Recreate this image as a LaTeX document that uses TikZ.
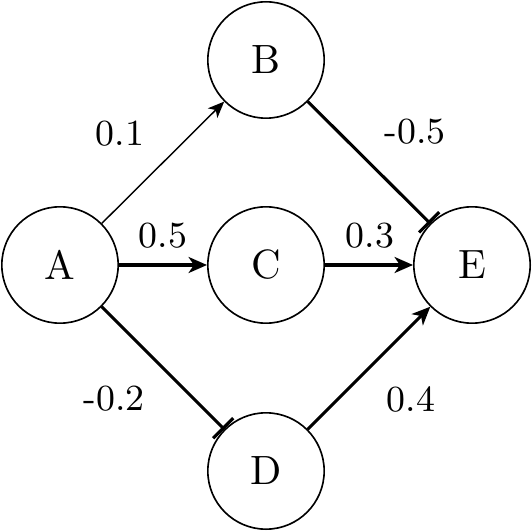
\documentclass[tikz,border=0pt]{standalone}
\usetikzlibrary{arrows.meta}
\begin{document}
\begin{tikzpicture}[x=0.2445pt,y=-0.2445pt,
  vnode/.style={draw,circle,minimum size=28.45pt,inner sep=0pt,line width=0.4pt,font=\normalsize},
  wlab/.style={font=\small,inner sep=0pt},
  act/.style={-{Stealth[length=4.5pt,width=3.9pt,inset=1.3pt]}},
  actthin/.style={-{Stealth[length=4pt,width=3.3pt,inset=1.1pt]}},
  inh/.style={-{Bar[width=7pt]}}]
\useasboundingbox (0,0) rectangle (531,532);
\node[vnode] (A) at (60,265) {A};
\node[vnode] (B) at (266,60) {B};
\node[vnode] (C) at (266,265) {C};
\node[vnode] (D) at (266,471) {D};
\node[vnode] (E) at (472,265) {E};
\draw[actthin,line width=0.35pt] (A) -- (B);
\draw[act,line width=0.8pt] (A) -- (C);
\draw[inh,line width=0.75pt] (A) -- (D);
\draw[inh,line width=0.75pt] (B) -- (E);
\draw[act,line width=0.8pt] (C) -- (E);
\draw[act,line width=0.75pt] (D) -- (E);
\node[wlab] (l1) at (120,134) {0.1};
\node[wlab] (l2) at (163,236) {0.5};
\node[wlab] (l3) at (370,236) {0.3};
\node[wlab] (l4) at (415,132) {-0.5};
\node[wlab] (l5) at (114,399) {-0.2};
\node[wlab] (l6) at (411,399) {0.4};
\end{tikzpicture}
\end{document}
